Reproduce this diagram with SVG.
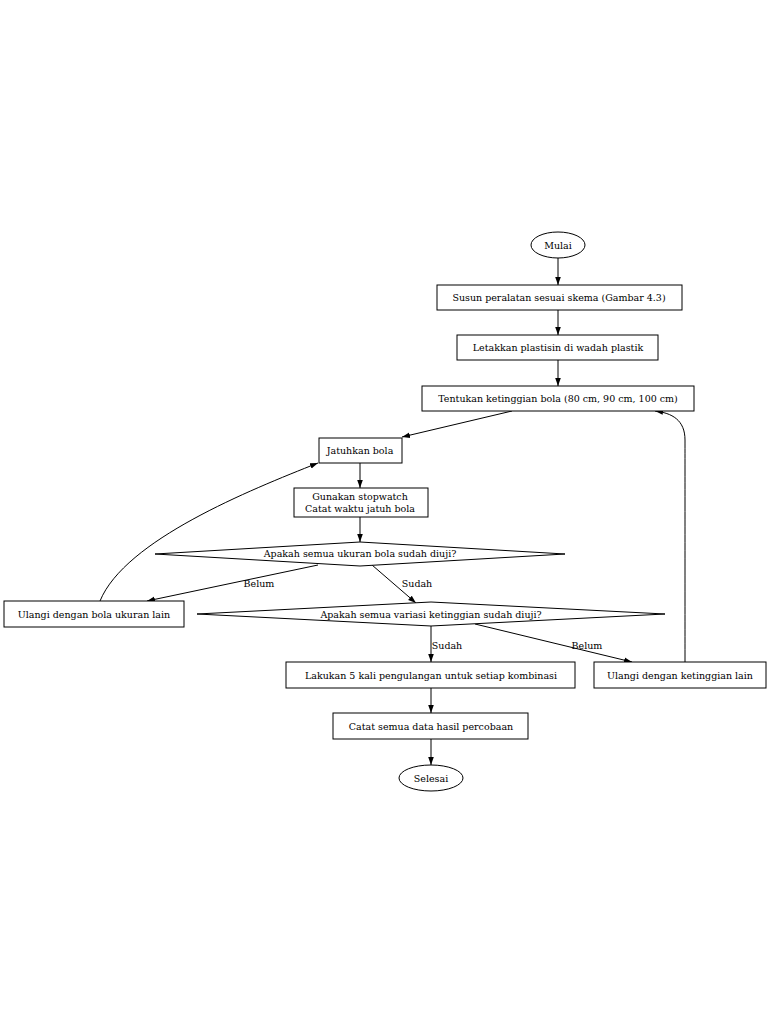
<svg xmlns="http://www.w3.org/2000/svg" width="768" height="1024" viewBox="0 0 768 1024">
<style>
.n{fill:#fff;stroke:#000;stroke-width:1}
.e{fill:none;stroke:#000;stroke-width:1;marker-end:url(#a)}
text{font-family:"DejaVu Serif","Liberation Serif",serif;font-size:9.5px;text-anchor:middle;dominant-baseline:central}
</style>
<defs><marker id="a" viewBox="0 0 10 10" refX="10" refY="5" markerWidth="8" markerHeight="8" orient="auto" markerUnits="userSpaceOnUse"><path d="M0,1.5L10,5L0,8.5z" fill="#000"/></marker></defs>
<rect width="768" height="1024" fill="#fff"/>
<g id="connectors">
<path class="e" d="M558,258V285"/>
<path class="e" d="M558,310V335"/>
<path class="e" d="M558,360V386"/>
<path class="e" d="M512,411L402,437"/>
<path class="e" d="M360,463V488"/>
<path class="e" d="M360,517V542"/>
<path class="e" d="M318,565L147,601"/>
<text x="259" y="583">Belum</text>
<path class="e" d="M372,565L416,603"/>
<text x="417" y="583">Sudah</text>
<path class="e" d="M100,601C125,540 250,490 318,463"/>
<path class="e" d="M431,626V662"/>
<text x="447" y="645">Sudah</text>
<path class="e" d="M475,624L632,662"/>
<text x="587" y="645">Belum</text>
<path class="e" d="M685,662C685,600 685,480 685,440C685,420 672,413 655,411"/>
<path class="e" d="M431,688V713"/>
<path class="e" d="M431,739V765"/>
</g>
<g id="mulai"><ellipse class="n" cx="558" cy="245" rx="27" ry="13"/><text x="558" y="245">Mulai</text></g>
<g id="susun"><rect class="n" x="437" y="285" width="245" height="25"/><text x="559" y="297">Susun peralatan sesuai skema (Gambar 4.3)</text></g>
<g id="letakkan"><rect class="n" x="457" y="335" width="201" height="25"/><text x="558" y="347">Letakkan plastisin di wadah plastik</text></g>
<g id="tentukan"><rect class="n" x="422" y="386" width="272" height="25"/><text x="558" y="398">Tentukan ketinggian bola (80 cm, 90 cm, 100 cm)</text></g>
<g id="jatuhkan"><rect class="n" x="319" y="438" width="83" height="25"/><text x="360" y="450">Jatuhkan bola</text></g>
<g id="gunakan"><rect class="n" x="294" y="488" width="134" height="29"/><text x="360" y="496">Gunakan stopwatch</text><text x="360" y="508">Catat waktu jatuh bola</text></g>
<g id="d1"><polygon class="n" points="155,554 360,542 565,554 360,566"/><text x="360" y="553">Apakah semua ukuran bola sudah diuji?</text></g>
<g id="ulangibola"><rect class="n" x="4" y="601" width="180" height="26"/><text x="94" y="614">Ulangi dengan bola ukuran lain</text></g>
<g id="d2"><polygon class="n" points="197,614 431,602 665,614 431,626"/><text x="431" y="614">Apakah semua variasi ketinggian sudah diuji?</text></g>
<g id="lakukan"><rect class="n" x="286" y="662" width="289" height="26"/><text x="431" y="675">Lakukan 5 kali pengulangan untuk setiap kombinasi</text></g>
<g id="ulangitinggi"><rect class="n" x="594" y="662" width="172" height="26"/><text x="680" y="675">Ulangi dengan ketinggian lain</text></g>
<g id="catat"><rect class="n" x="333" y="713" width="195" height="26"/><text x="431" y="726">Catat semua data hasil percobaan</text></g>
<g id="selesai"><ellipse class="n" cx="431" cy="778" rx="32" ry="13"/><text x="431" y="778">Selesai</text></g>
</svg>
